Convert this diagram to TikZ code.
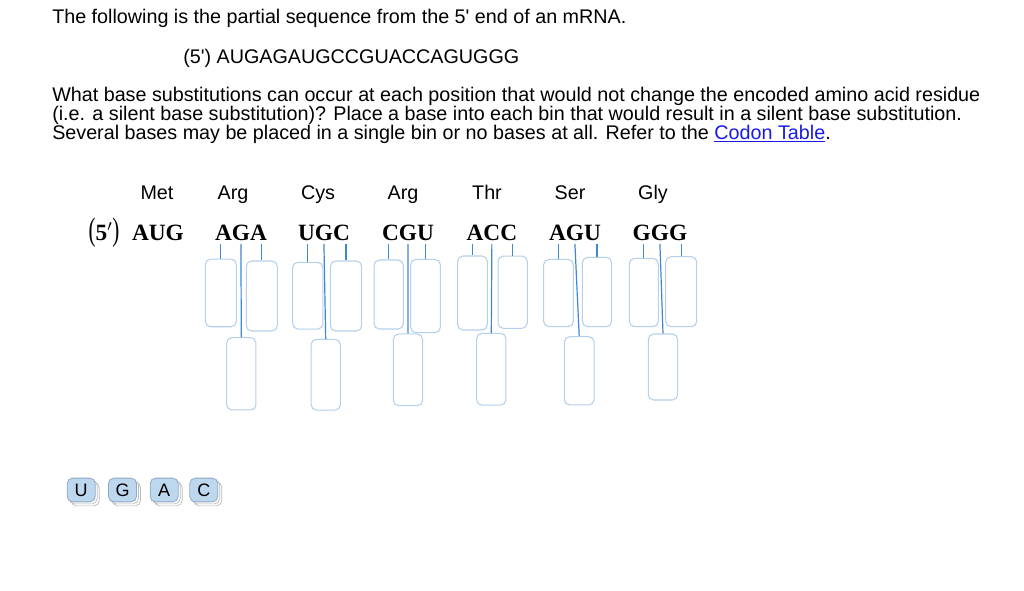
\documentclass[tikz,border=0pt]{standalone}
\usepackage{fontspec}
\setmainfont{Liberation Sans}
\newfontfamily\rawsans{Liberation Sans}[Ligatures=TeXOff]
\newfontfamily\codonfont{Liberation Serif}
\usetikzlibrary{shadows}
\definecolor{linkblue}{HTML}{1A1AE6}
\definecolor{connblue}{HTML}{3F87D0}
\definecolor{binedge}{HTML}{B5D0EA}
\definecolor{tokfill}{HTML}{BDD7EE}
\definecolor{tokedge}{HTML}{8FA8C4}
\newcommand\apos{{\rawsans '}}
\tikzset{
  para/.style={anchor=base west, inner sep=0pt, font=\fontsize{14.8}{17}\selectfont},
  aa/.style={anchor=base, inner sep=0pt, font=\fontsize{14.8}{17}\selectfont},
  letter/.style={anchor=base west, inner xsep=0pt, inner ysep=0pt, outer sep=0pt, font=\codonfont\bfseries\fontsize{17.5}{17.5}\selectfont},
  bin/.style={draw=binedge, line width=0.8pt, fill=white, rounded corners=4pt, inner sep=0pt},
  conn/.style={draw=connblue, line width=0.9pt},
  token/.style={draw=tokedge, line width=0.6pt, fill=tokfill, rounded corners=4pt,
    minimum width=21pt, minimum height=17.8pt, inner sep=0pt,
    font=\fontsize{13.5}{15}\selectfont,
    double copy shadow={shadow xshift=1.5pt, shadow yshift=-1.5pt, fill=white, draw=gray!55, line width=0.5pt}}
}
\newcommand\binbox[5]{\node[bin, minimum width=#4*0.75pt, minimum height=#5*0.75pt] (#1) at (#2,#3) {};}
\begin{document}
\begin{tikzpicture}[x=0.75pt,y=-0.75pt]
\useasboundingbox (0,0) rectangle (1024,590);
% header text
\node[para] (t1) at (52,23) {The following is the partial sequence from the 5\apos{} end of an mRNA.};
\node[para] (t2) at (183,63) {(5\apos) AUGAGAUGCCGUACCAGUGGG};
\node[para] (t3) at (52,101) {What base substitutions can occur at each position that would not change the encoded amino acid residue};
\node[para] (t4) at (52,120) {(i.e. a silent base substitution)? Place a base into each bin that would result in a silent base substitution.};
\node[para] (t5) at (52,139) {Several bases may be placed in a single bin or no bases at all. Refer to the \textcolor{linkblue}{\underline{Codon Table}}.};
% amino acids
\node[aa] (aa1) at (157,199) {Met};
\node[aa] (aa2) at (233,199) {Arg};
\node[aa] (aa3) at (318,199) {Cys};
\node[aa] (aa4) at (403,199) {Arg};
\node[aa] (aa5) at (487,199) {Thr};
\node[aa] (aa6) at (570,199) {Ser};
\node[aa] (aa7) at (653,199) {Gly};
% 5' label
\node[anchor=base, inner sep=0pt, font=\codonfont\bfseries\fontsize{17.5}{17.5}\selectfont] (five) at (104,240) {\scalebox{0.9}[1.4]{\mdseries(}5$'$\scalebox{0.9}[1.4]{\mdseries)}};
% codon letters (chained)
\node[letter] (c1a) at (132,240) {A};   \node[letter] (c1b) at (c1a.base east) {U}; \node[letter] (c1c) at (c1b.base east) {G};
\node[letter] (c2a) at (215,240) {A};   \node[letter] (c2b) at (c2a.base east) {G}; \node[letter] (c2c) at (c2b.base east) {A};
\node[letter] (c3a) at (298,240) {U};   \node[letter] (c3b) at (c3a.base east) {G}; \node[letter] (c3c) at (c3b.base east) {C};
\node[letter] (c4a) at (382,240) {C};   \node[letter] (c4b) at (c4a.base east) {G}; \node[letter] (c4c) at (c4b.base east) {U};
\node[letter] (c5a) at (466.6,240) {A}; \node[letter] (c5b) at (c5a.base east) {C}; \node[letter] (c5c) at (c5b.base east) {C};
\node[letter] (c6a) at (549,240) {A};   \node[letter] (c6b) at (c6a.base east) {G}; \node[letter] (c6c) at (c6b.base east) {U};
\node[letter] (c7a) at (632.7,240) {G}; \node[letter] (c7b) at (c7a.base east) {G}; \node[letter] (c7c) at (c7b.base east) {G};
% bins
\binbox{b2l}{220.8}{292.9}{31}{67.7}
\binbox{b2r}{261.8}{296}{31}{70}
\binbox{b2m}{241.3}{373.8}{29.3}{72.3}
\binbox{b3l}{307.8}{295.7}{30.3}{66.7}
\binbox{b3r}{346}{296}{31.3}{70}
\binbox{b3m}{325.7}{374.7}{29.3}{70.7}
\binbox{b4l}{388.7}{294.5}{29.3}{69}
\binbox{b4r}{425.5}{296}{29.7}{73.3}
\binbox{b4m}{408}{369.8}{29.3}{71.7}
\binbox{b5l}{472.5}{293}{29.7}{74}
\binbox{b5r}{512.7}{292.2}{29.3}{72.3}
\binbox{b5m}{491.3}{369.2}{29.3}{71.7}
\binbox{b6l}{558.5}{293}{29.7}{67.3}
\binbox{b6r}{597}{292}{29.3}{69.3}
\binbox{b6m}{579.2}{370.8}{29.7}{68.3}
\binbox{b7l}{643.8}{292.5}{29}{68.3}
\binbox{b7r}{681.2}{291.7}{31}{70}
\binbox{b7m}{663}{367}{29.4}{66}
% connectors
\foreach \c in {2,...,7}{
  \draw[conn] ([yshift=-3pt]b\c l.north |- c\c a.base) -- (b\c l.north);
  \draw[conn] ([yshift=-3pt]b\c r.north |- c\c c.base) -- (b\c r.north);
  \draw[conn] ([yshift=-3pt]c\c b.base) -- (b\c m.north);
}
% tokens
\node[token] (tu) at (81.2,490) {U};
\node[token] (tg) at (122.5,490) {G};
\node[token] (ta) at (164.2,490) {A};
\node[token] (tc) at (203.8,490) {C};
\end{tikzpicture}
\end{document}
